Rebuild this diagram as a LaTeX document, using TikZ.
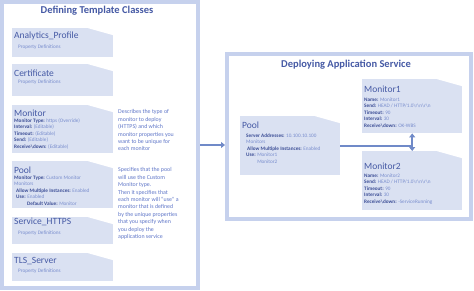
\documentclass[tikz,border=0pt]{standalone}
\usepackage{fontspec}
\setmainfont{Carlito}
\definecolor{FrameColor}{RGB}{198,209,237}
\definecolor{BoxFill}{RGB}{218,225,242}
\definecolor{TitleColor}{RGB}{70,90,165}
\definecolor{KeyColor}{RGB}{60,78,150}
\definecolor{ValueColor}{RGB}{120,140,205}
\definecolor{NoteColor}{RGB}{95,118,200}
\definecolor{LinkColor}{RGB}{112,138,200}
\usetikzlibrary{positioning, arrows.meta}
\newcommand{\kv}[2]{{\bfseries\color{KeyColor}#1:} {\color{ValueColor}#2}}
\newcommand{\bs}{\textbackslash}

\begin{document}
\begin{tikzpicture}[x=1pt, y=-1pt,
    panel/.style={draw=FrameColor, line width=4pt, fill=white},
    tbox/.style={fill=BoxFill, anchor=north west, minimum width=101pt, inner sep=0pt,
      path picture={\fill[white] ([xshift=-25pt]path picture bounding box.north east) -- (path picture bounding box.north east) -- ([yshift=-7pt]path picture bounding box.north east) -- cycle;}},
    heading/.style={text=TitleColor, font=\fontsize{10.5}{12}\selectfont\bfseries},
    boxtitle/.style={anchor=west, text=TitleColor, font=\fontsize{9.5}{11}\selectfont, inner sep=0pt},
    props/.style={anchor=north west, align=left, text=ValueColor, font=\fontsize{5.2}{6.5}\selectfont, inner sep=0pt},
    note/.style={anchor=north west, align=left, text=NoteColor, font=\fontsize{5.9}{7.4}\selectfont, inner sep=0pt},
    link/.style={draw=LinkColor, line width=2pt},
    tip/.style={-{Triangle[length=4pt,width=6pt]}}]
  \useasboundingbox (0,0) rectangle (474,290);

  \node[panel, minimum width=196pt, minimum height=286pt] (defpanel) at (100,145) {};
  \node[panel, minimum width=244pt, minimum height=165pt] (deppanel) at (349,136.5) {};
  \draw[link, tip] (defpanel.east) -- (deppanel.west |- defpanel.east);

  \node[heading] (defhead) at (97,10.5) {Defining Template Classes};
  \node[heading] (dephead) at (346,65) {Deploying Application Service};

  \node[tbox, minimum height=29pt] (analytics) at (12,28) {};
  \node[boxtitle] (analyticstitle) at (14,36) {Analytics\_Profile};
  \node[props, anchor=west] (analyticsprops) at (18,47) {Property Definitions};

  \node[tbox, minimum height=32pt] (certificate) at (12,64) {};
  \node[boxtitle] (certificatetitle) at (14,73) {Certificate};
  \node[props, anchor=west] (certificateprops) at (18,82) {Property Definitions};

  \node[tbox, minimum height=48pt] (monitor) at (12,105) {};
  \node[boxtitle] (monitortitle) at (14,113) {Monitor};
  \node[props] (monitorprops) at (14,118) {\kv{Monitor Type}{https (Override)}\\ \kv{Interval}{(Editable)}\\ \kv{Timeout}{(Editable)}\\ \kv{Send}{(Editable)}\\ \kv{Receive\bs down}{(Editable)}};

  \node[tbox, minimum height=47pt] (pool) at (12,161) {};
  \node[boxtitle] (pooltitle) at (14,170) {Pool};
  \node[props] (poolprops) at (14,175.5) {\kv{Monitor Type}{Custom Monitor}\\ Monitors\\ \hspace*{2pt}\kv{Allow Multiple Instances}{Enabled}\\ \hspace*{2pt}\kv{Use}{Enabled}\\ \hspace*{13pt}\kv{Default Value}{Monitor}};

  \node[tbox, minimum height=27pt] (https) at (12,217) {};
  \node[boxtitle] (httpstitle) at (14,222) {Service\_HTTPS};
  \node[props, anchor=west] (httpsprops) at (18,233) {Property Definitions};

  \node[tbox, minimum height=28pt] (tls) at (12,253) {};
  \node[boxtitle] (tlstitle) at (14,261) {TLS\_Server};
  \node[props, anchor=west] (tlsprops) at (18,271) {Property Definitions};

  \node[note] (monitornote) at (118,109.5) {Describes the type of\\ monitor to deploy\\ (HTTPS) and which\\ monitor properties you\\ want to be unique for\\ each monitor};
  \node[note] (poolnote) at (118,167.5) {Specifies that the pool\\ will use the Custom\\ Monitor type.\\ Then it specifies that\\ each monitor will “use” a\\ monitor that is defined\\ by the unique properties\\ that you specify when\\ you deploy the\\ application service};

  \node[tbox, minimum width=100pt, minimum height=59pt] (rpool) at (240,116) {};
  \node[boxtitle] (rpooltitle) at (242,125) {Pool};
  \node[props] (rpoolprops) at (246,133.5) {\kv{Server Addresses}{10.100.10.100}\\ Monitors\\ \hspace*{1pt}\kv{Allow Multiple Instances}{Enabled}\\ \kv{Use}{Monitor1}\\ \phantom{\bfseries Use: }Monitor2};

  \node[tbox, minimum width=100pt, minimum height=54pt] (monone) at (362,79) {};
  \node[boxtitle] (mononetitle) at (364,89) {Monitor1};
  \node[props] (mononeprops) at (364,97.5) {\kv{Name}{Monitor1}\\ \kv{Send}{HEAD / HTTP/1.0\bs r\bs n\bs r\bs n}\\ \kv{Timeout}{90}\\ \kv{Interval}{30}\\ \kv{Receive\bs down}{OK-WBS}};

  \node[tbox, minimum width=100pt, minimum height=59pt] (montwo) at (362,151) {};
  \node[boxtitle] (montwotitle) at (364,166) {Monitor2};
  \node[props] (montwoprops) at (364,173.5) {\kv{Name}{Monitor2}\\ \kv{Send}{HEAD / HTTP/1.0\bs r\bs n\bs r\bs n}\\ \kv{Timeout}{90}\\ \kv{Interval}{30}\\ \kv{Receive\bs down}{-ServiceRunning}};

  \draw[link] (rpool.east) -- (rpool.east -| monone.south);
  \draw[link, {Triangle[length=4pt,width=6pt]}-{Triangle[length=4pt,width=6pt]}] (monone.south) -- (montwo.north);
\end{tikzpicture}
\end{document}
